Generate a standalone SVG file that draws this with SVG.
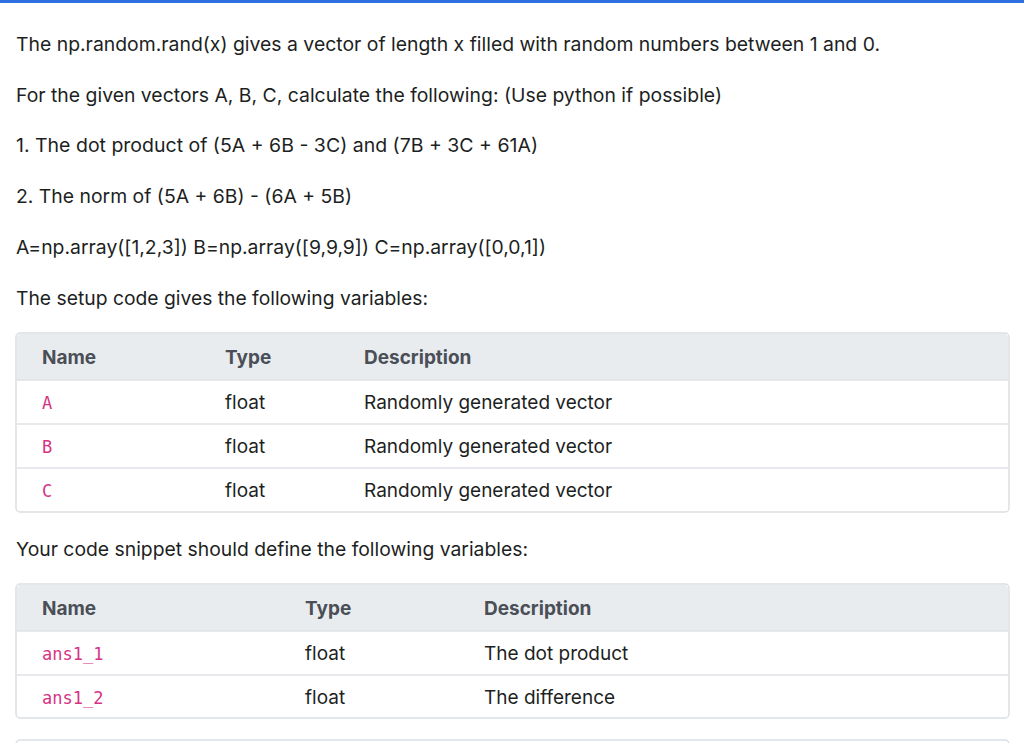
<svg xmlns="http://www.w3.org/2000/svg" width="1024" height="743" viewBox="0 0 1024 743">
<style>
text{font-family:Inter,"Noto Sans","Liberation Sans",sans-serif;font-size:19px;fill:#1d1f23}
.h{font-weight:bold;fill:#4a4f57}
.c{font-family:"DejaVu Sans Mono","Liberation Mono",monospace;font-size:17px;fill:#d63384}
.tb{fill:#fff;stroke:#dcdfe3;stroke-width:1.5}
.hd{fill:#e9ecef}
.ln{stroke:#dfe2e6;stroke-width:1.5}
</style>
<rect width="1024" height="743" fill="#fff"/>
<rect width="1024" height="3" fill="#2f6fe0"/>
<text x="16" y="51" textLength="864" lengthAdjust="spacingAndGlyphs">The np.random.rand(x) gives a vector of length x filled with random numbers between 1 and 0.</text>
<text x="16" y="102" textLength="706" lengthAdjust="spacingAndGlyphs">For the given vectors A, B, C, calculate the following: (Use python if possible)</text>
<text x="16" y="152" textLength="522" lengthAdjust="spacingAndGlyphs">1. The dot product of (5A + 6B - 3C) and (7B + 3C + 61A)</text>
<text x="16" y="203" textLength="336" lengthAdjust="spacingAndGlyphs">2. The norm of (5A + 6B) - (6A + 5B)</text>
<text x="16" y="254" textLength="530" lengthAdjust="spacingAndGlyphs">A=np.array([1,2,3]) B=np.array([9,9,9]) C=np.array([0,0,1])</text>
<text x="16" y="305" textLength="412" lengthAdjust="spacingAndGlyphs">The setup code gives the following variables:</text>
<g id="table1">
<rect class="tb" x="16" y="333" width="993" height="179" rx="4"/>
<path class="hd" d="M17,380 V338 a4,4 0 0 1 4,-4 H1004 a4,4 0 0 1 4,4 V380 Z"/>
<line class="ln" x1="17" y1="380" x2="1008" y2="380"/>
<line class="ln" x1="17" y1="424" x2="1008" y2="424"/>
<line class="ln" x1="17" y1="468" x2="1008" y2="468"/>
<text class="h" x="42" y="364">Name</text><text class="h" x="225" y="364">Type</text><text class="h" x="364" y="364">Description</text>
<text class="c" x="42" y="409">A</text><text x="225" y="409">float</text><text x="364" y="409">Randomly generated vector</text>
<text class="c" x="42" y="453">B</text><text x="225" y="453">float</text><text x="364" y="453">Randomly generated vector</text>
<text class="c" x="42" y="497">C</text><text x="225" y="497">float</text><text x="364" y="497">Randomly generated vector</text>
</g>
<text x="16" y="556" textLength="512" lengthAdjust="spacingAndGlyphs">Your code snippet should define the following variables:</text>
<g id="table2">
<rect class="tb" x="16" y="584" width="993" height="134" rx="4"/>
<path class="hd" d="M17,631 V589 a4,4 0 0 1 4,-4 H1004 a4,4 0 0 1 4,4 V631 Z"/>
<line class="ln" x1="17" y1="631" x2="1008" y2="631"/>
<line class="ln" x1="17" y1="675" x2="1008" y2="675"/>
<text class="h" x="42" y="615">Name</text><text class="h" x="305" y="615">Type</text><text class="h" x="484" y="615">Description</text>
<text class="c" x="42" y="660">ans1_1</text><text x="305" y="660">float</text><text x="484" y="660">The dot product</text>
<text class="c" x="42" y="704">ans1_2</text><text x="305" y="704">float</text><text x="484" y="704">The difference</text>
</g>
<rect class="tb" x="16" y="740" width="993" height="20" rx="4"/>
</svg>
